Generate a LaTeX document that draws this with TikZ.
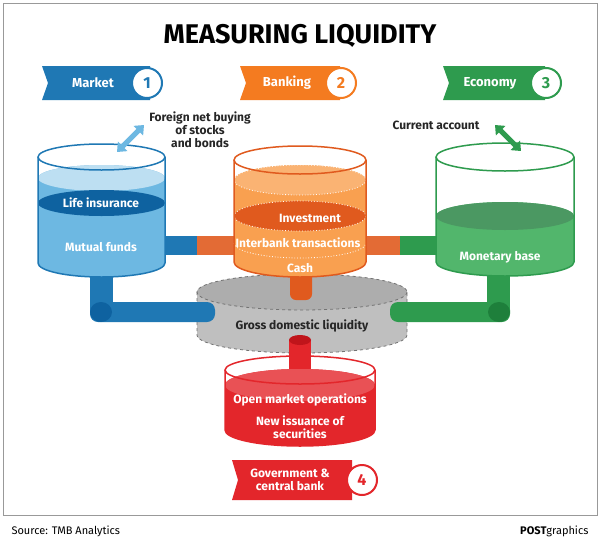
\documentclass[tikz,border=0pt]{standalone}
\usepackage{fontspec}
\setmainfont{Fira Sans}
\usetikzlibrary{arrows.meta}
\begin{document}
\begin{tikzpicture}[x=1pt,y=-1pt,
 lbl/.style={font=\bfseries\fontsize{12}{13}\selectfont,text=white,inner sep=1pt,align=center},
 blk/.style={font=\bfseries\fontsize{12}{13}\selectfont,text=black!85,inner sep=1pt,align=center},
 tab/.style={font=\bfseries\fontsize{13}{14}\selectfont,text=white},
 num/.style={circle,draw=#1,line width=2pt,fill=white,minimum size=30pt,inner sep=0pt,font=\bfseries\fontsize{16}{16}\selectfont,text=#1}]
\definecolor{bl}{HTML}{1F78B4}\definecolor{bll}{HTML}{6DB8E2}\definecolor{bld}{HTML}{0E62A0}
\definecolor{or}{HTML}{F47B20}\definecolor{orl}{HTML}{F9A050}\definecolor{ord}{HTML}{E05A1E}
\definecolor{gr}{HTML}{2E9B4E}\definecolor{grl}{HTML}{52B66C}\definecolor{grd}{HTML}{1E7F3B}
\definecolor{rd}{HTML}{E3262B}\definecolor{rdd}{HTML}{C0151B}
\useasboundingbox (0,0) rectangle (600,552);
\fill[white] (0,0) rectangle (600,552);
\draw[black!40] (3,3) rectangle (597,515);
\node[font=\bfseries\fontsize{27}{28}\selectfont] (title) at (300,36) {MEASURING LIQUIDITY};
% tabs
\fill[bl] (42,66) -- (150,66) -- (150,100) -- (42,100) -- (48,83) -- cycle;
\node[tab] (t1) at (93,83) {Market};
\node[num=bl] (n1) at (147,83) {1};
\fill[or] (240,66) -- (340,66) -- (340,100) -- (240,100) -- (246,83) -- cycle;
\node[tab] (t2) at (287,83) {Banking};
\node[num=or] (n2) at (341,83) {2};
\fill[gr] (443,66) -- (545,66) -- (545,100) -- (443,100) -- (449,83) -- cycle;
\node[tab] (t3) at (490,83) {Economy};
\node[num=gr] (n3) at (546,83) {3};
% pipes horizontal
\fill[bl] (160,236) rectangle (197,255);
\fill[ord!90] (197,236) rectangle (240,255);
\fill[ord!90] (360,236) rectangle (400,255);
\fill[gr] (400,236) rectangle (440,255);
% gray tank
\fill[black!25] (197,292) -- (197,335) arc[start angle=180,end angle=0,x radius=105,y radius=18] -- (407,292) arc[start angle=360,end angle=180,x radius=105,y radius=18];
\fill[black!32] (302,292) ellipse[x radius=105,y radius=18];
\draw[black!55,dashed,thick] (302,292) ellipse[x radius=105,y radius=18];
\draw[black!55,dashed,thick] (197,292) -- (197,335) arc[start angle=180,end angle=0,x radius=105,y radius=18] -- (407,292);
% bottom pipes
\fill[bl] (90,265) rectangle (113,312);
\fill[bl,rounded corners=8pt] (90,302) rectangle (215,322);
\fill[bld] (101,312) ellipse[x radius=11,y radius=10];
\fill[gr] (487,265) rectangle (510,312);
\fill[gr,rounded corners=8pt] (390,302) rectangle (510,322);
\fill[grd] (499,312) ellipse[x radius=11,y radius=10];
% orange pipe down
\fill[ord,rounded corners=6pt] (290,265) rectangle (312,300);
% left tank
\fill[white] (101,157) ellipse[x radius=63,y radius=13];
\fill[bll] (38,178) -- (38,263) arc[start angle=180,end angle=0,x radius=63.5,y radius=14] -- (165,178) arc[start angle=360,end angle=180,x radius=63.5,y radius=13];
\fill[bll!45] (101.5,178) ellipse[x radius=63.5,y radius=13];
\fill[bld] (101.5,203) ellipse[x radius=63.5,y radius=13];
\draw[bl,line width=1.5pt] (101.5,157) ellipse[x radius=63.5,y radius=13];
\draw[bl,line width=1.5pt] (38,157) -- (38,263) arc[start angle=180,end angle=0,x radius=63.5,y radius=14] -- (165,157);
\node[lbl] (li) at (101,203) {Life insurance};
\node[lbl] (mf) at (101,247) {Mutual funds};
% orange tank
\fill[orl] (234,180) -- (234,262) arc[start angle=180,end angle=0,x radius=66,y radius=15] -- (366,180) arc[start angle=360,end angle=180,x radius=66,y radius=15];
\fill[orl!80] (300,180) ellipse[x radius=66,y radius=15];
\fill[ord] (300,216) ellipse[x radius=66,y radius=15];
\draw[white,dotted,thick] (300,180) ellipse[x radius=66,y radius=15];
\draw[white,dotted,thick] (300,216) ellipse[x radius=66,y radius=15];
\draw[white,dotted,thick] (234,243) arc[start angle=180,end angle=0,x radius=66,y radius=15];
\draw[ord,line width=1.5pt] (300,160) ellipse[x radius=66,y radius=14];
\draw[ord,line width=1.5pt] (234,160) -- (234,262) arc[start angle=180,end angle=0,x radius=66,y radius=15] -- (366,160);
\node[lbl] (inv) at (310,218) {Investment};
\node[lbl] (ib) at (298,243) {Interbank transactions};
\node[lbl] (cash) at (300,268) {Cash};
% green tank
\fill[grl] (436,216) -- (436,262) arc[start angle=180,end angle=0,x radius=69,y radius=14] -- (574,216) arc[start angle=360,end angle=180,x radius=69,y radius=14];
\fill[grd!80] (505,216) ellipse[x radius=69,y radius=14];
\draw[gr,line width=1.5pt] (505,157) ellipse[x radius=69,y radius=14];
\draw[gr,line width=1.5pt] (436,157) -- (436,262) arc[start angle=180,end angle=0,x radius=69,y radius=14] -- (574,157);
\node[lbl] (mb) at (500,257) {Monetary base};
% gray text
\node[blk] (gdl) at (302,326) {Gross domestic liquidity};
% red pipe
\fill[rd] (289,340) rectangle (311,385);
\fill[rdd] (300,340) ellipse[x radius=11,y radius=5];
% red tank
\fill[rd] (225,385) -- (225,430) arc[start angle=180,end angle=0,x radius=75,y radius=16] -- (375,385) arc[start angle=360,end angle=180,x radius=75,y radius=16];
\fill[rd!80] (300,385) ellipse[x radius=75,y radius=16];
\draw[rd,line width=1.5pt] (300,370) ellipse[x radius=75,y radius=14];
\draw[rd,line width=1.5pt] (225,370) -- (225,430) arc[start angle=180,end angle=0,x radius=75,y radius=16] -- (375,370);
\node[lbl] (omo) at (300,400) {Open market operations};
\node[lbl] (nis) at (300,427) {New issuance of\\securities};
% red tab
\fill[rd] (232,460) -- (352,460) -- (352,500) -- (232,500) -- (238,480) -- cycle;
\node[font=\bfseries\fontsize{12}{13}\selectfont,text=white,align=center] (gov) at (290,480) {Government \&\\central bank};
\node[num=rd] (n4) at (362,480) {4};
% arrows
\draw[bll,line width=5pt,{Triangle[length=8pt,width=13pt]}-{Triangle[length=8pt,width=13pt]}] (117,152) -- (144,125);
\node[blk,align=center] (fn) at (200,130) {Foreign net buying\\of stocks\\and bonds};
\draw[gr,line width=5pt,{Triangle[length=8pt,width=13pt]}-{Triangle[length=8pt,width=13pt]}] (495,125) -- (521,151);
\node[blk] (ca) at (436,125) {Current account};
% footer
\node[anchor=west,font=\fontsize{11}{12}\selectfont] (src) at (8,531) {Source: TMB Analytics};
\node[anchor=east,font=\fontsize{11}{12}\selectfont] (pg) at (592,531) {\textbf{POST}graphics};
\end{tikzpicture}
\end{document}
